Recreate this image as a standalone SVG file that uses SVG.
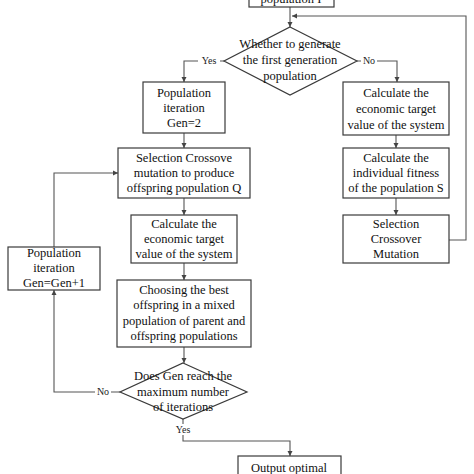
<svg xmlns="http://www.w3.org/2000/svg" width="474" height="474" viewBox="0 0 474 474">
<defs>
<style>
.b{fill:#fff;stroke:#3a3a3a;stroke-width:1.2}
.t{font-family:"Liberation Serif","Times New Roman","DejaVu Serif",serif;font-size:12.5px;fill:#111;text-anchor:middle}
.s{font-family:"Liberation Serif","Times New Roman","DejaVu Serif",serif;font-size:10px;fill:#222;text-anchor:middle}
.c{fill:none;stroke:#555;stroke-width:1.1}
</style>
<marker id="a" markerWidth="6" markerHeight="6" refX="5" refY="3" orient="auto" markerUnits="userSpaceOnUse">
<path d="M0,0.5 L5,3 L0,5.5 Z" fill="#444"/>
</marker>
</defs>
<rect width="474" height="474" fill="#fff"/>
<g id="connectors">
<path class="c" d="M290,7 V27" marker-end="url(#a)"/>
<path class="c" d="M449,240 H466 V16 H292" marker-end="url(#a)"/>
<path class="c" d="M224,61 H184 V82" marker-end="url(#a)"/>
<path class="c" d="M357,61 H397 V82" marker-end="url(#a)"/>
<path class="c" d="M396,135 V148" marker-end="url(#a)"/>
<path class="c" d="M396,198 V215" marker-end="url(#a)"/>
<path class="c" d="M184,133 V148" marker-end="url(#a)"/>
<path class="c" d="M184,198 V215" marker-end="url(#a)"/>
<path class="c" d="M184,263 V280" marker-end="url(#a)"/>
<path class="c" d="M184,347 V363" marker-end="url(#a)"/>
<path class="c" d="M54,247 V173 H118" marker-end="url(#a)"/>
<path class="c" d="M120,392 H54 V290" marker-end="url(#a)"/>
<path class="c" d="M183,419 V424"/>
<path class="c" d="M183,435 V441 H290 V456" marker-end="url(#a)"/>
<rect x="198" y="55" width="22" height="12" fill="#fff"/>
<text class="s" x="209" y="64">Yes</text>
<rect x="361" y="55" width="16" height="12" fill="#fff"/>
<text class="s" x="369" y="64">No</text>
<rect x="95" y="386" width="16" height="12" fill="#fff"/>
<text class="s" x="103" y="395">No</text>
<text class="s" x="183" y="433">Yes</text>
</g>
<g id="start">
<rect class="b" x="249" y="-20" width="85" height="27"/>
<text class="t" x="291" y="3">population I</text>
</g>
<g id="decision1">
<polygon class="b" points="290,27 357,61 290,95 224,61"/>
<text class="t" x="290" y="48">Whether to generate</text>
<text class="t" x="290" y="64">the first generation</text>
<text class="t" x="290" y="80">population</text>
</g>
<g id="gen2">
<rect class="b" x="143" y="82" width="82" height="51"/>
<text class="t" x="184" y="97">Population</text>
<text class="t" x="184" y="112">iteration</text>
<text class="t" x="184" y="127">Gen=2</text>
</g>
<g id="selection-q">
<rect class="b" x="118" y="148" width="132" height="50"/>
<text class="t" x="184" y="162">Selection Crossove</text>
<text class="t" x="184" y="177">mutation to produce</text>
<text class="t" x="184" y="192">offspring population Q</text>
</g>
<g id="calc-left">
<rect class="b" x="131" y="215" width="106" height="48"/>
<text class="t" x="184" y="228">Calculate the</text>
<text class="t" x="184" y="243">economic target</text>
<text class="t" x="184" y="258">value of the system</text>
</g>
<g id="choosing">
<rect class="b" x="117" y="280" width="134" height="67"/>
<text class="t" x="184" y="294">Choosing the best</text>
<text class="t" x="184" y="309">offspring in a mixed</text>
<text class="t" x="184" y="325">population of parent and</text>
<text class="t" x="184" y="340">offspring populations</text>
</g>
<g id="gen-inc">
<rect class="b" x="8" y="247" width="92" height="43"/>
<text class="t" x="54" y="257">Population</text>
<text class="t" x="54" y="272">iteration</text>
<text class="t" x="54" y="287">Gen=Gen+1</text>
</g>
<g id="decision2">
<polygon class="b" points="183,363 247,392 183,419 120,392"/>
<text class="t" x="183" y="380">Does Gen reach the</text>
<text class="t" x="183" y="396">maximum number</text>
<text class="t" x="183" y="411">of iterations</text>
</g>
<g id="output">
<rect class="b" x="238" y="456" width="103" height="30"/>
<text class="t" x="289" y="472">Output optimal</text>
</g>
<g id="calc-right">
<rect class="b" x="343" y="82" width="106" height="53"/>
<text class="t" x="396" y="97">Calculate the</text>
<text class="t" x="396" y="113">economic target</text>
<text class="t" x="396" y="129">value of the system</text>
</g>
<g id="fitness">
<rect class="b" x="343" y="148" width="106" height="50"/>
<text class="t" x="396" y="162">Calculate the</text>
<text class="t" x="396" y="177">individual fitness</text>
<text class="t" x="396" y="192">of the population S</text>
</g>
<g id="selection-right">
<rect class="b" x="343" y="215" width="106" height="48"/>
<text class="t" x="396" y="228">Selection</text>
<text class="t" x="396" y="243">Crossover</text>
<text class="t" x="396" y="258">Mutation</text>
</g>
</svg>
